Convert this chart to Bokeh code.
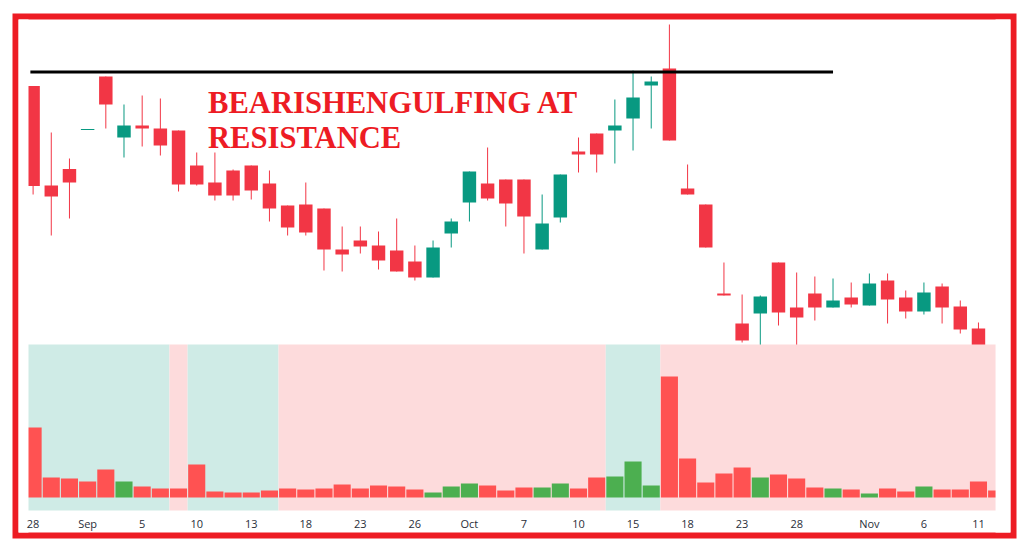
from bokeh.plotting import figure
from bokeh.models import Range1d, FixedTicker, ColumnDataSource
from bokeh.core.properties import value
from bokeh.embed import file_html
from bokeh.resources import INLINE

# ---- data ----
opens = [132.9, 113.0, 116.3, 124.1, 134.8, 122.6, 125.0, 124.4, 124.0, 117.0,
         113.6, 116.0, 117.0, 113.4, 109.0, 109.2, 108.4, 100.2, 102.0, 101.0,
         100.0, 97.8, 94.6, 103.4, 109.6, 113.4, 114.2, 114.2, 100.2, 106.6,
         119.8, 123.4, 124.0, 126.4, 133.0, 136.4, 112.4, 109.2, 91.4, 85.4,
         87.4, 97.6, 88.6, 91.4, 88.6, 90.6, 89.0, 94.0, 90.6, 87.8,
         92.8, 88.8, 84.4, 80.0]
highs = [132.9, 123.6, 118.4, 124.3, 134.8, 129.2, 131.0, 130.4, 124.0, 119.6,
         119.6, 116.2, 117.0, 116.0, 109.0, 113.6, 108.4, 104.8, 104.8, 103.8,
         106.4, 101.0, 102.0, 106.4, 115.8, 120.6, 114.2, 114.2, 111.2, 115.2,
         122.6, 123.4, 130.2, 136.0, 134.8, 145.2, 117.2, 109.2, 97.6, 91.2,
         91.0, 97.6, 95.6, 94.8, 94.4, 93.6, 95.4, 95.4, 92.0, 93.6,
         93.4, 90.0, 85.6, 81.0]
lows = [111.2, 103.0, 106.4, 124.1, 124.4, 118.6, 120.8, 119.0, 111.8, 113.0,
        110.0, 110.0, 110.2, 105.8, 103.0, 103.0, 96.0, 95.8, 99.4, 96.2,
        95.8, 94.0, 94.6, 100.6, 105.8, 110.0, 104.8, 99.4, 100.2, 105.6,
        115.6, 115.6, 117.4, 120.0, 124.4, 122.0, 111.2, 100.6, 91.0, 81.6,
        80.0, 85.0, 81.0, 86.0, 88.6, 88.6, 89.0, 85.4, 86.4, 87.2,
        85.4, 83.4, 79.0, 76.0]
closes = [112.9, 110.8, 113.6, 124.3, 129.2, 125.0, 124.4, 121.0, 113.2, 113.2,
          111.0, 111.0, 112.0, 108.4, 104.6, 103.6, 100.2, 99.2, 100.8, 98.0,
          95.8, 94.6, 100.6, 105.8, 115.8, 110.4, 109.4, 106.8, 105.4, 115.2,
          119.2, 119.2, 125.0, 130.6, 133.8, 122.0, 111.2, 100.6, 91.0, 82.0,
          90.8, 87.6, 86.6, 88.6, 90.0, 89.2, 93.4, 90.2, 87.8, 91.6,
          88.6, 84.2, 80.0, 77.0]
volumes = [7.0, 2.0, 1.9, 1.6, 2.8, 1.6, 1.1, 0.9, 0.9, 3.3,
           0.6, 0.5, 0.5, 0.7, 0.9, 0.8, 0.9, 1.3, 0.9, 1.2,
           1.1, 0.8, 0.5, 1.1, 1.4, 1.2, 0.7, 1.0, 1.0, 1.4,
           0.9, 2.0, 2.1, 3.6, 1.2, 12.1, 3.9, 1.5, 2.4, 3.0,
           2.0, 2.3, 1.9, 1.0, 0.9, 0.8, 0.4, 0.9, 0.6, 1.1,
           0.8, 0.8, 1.6, 0.7]
volume_up = [0, 0, 0, 0, 0, 1, 0, 0, 0, 0,
             0, 0, 0, 0, 0, 0, 0, 0, 0, 0,
             0, 0, 1, 1, 1, 0, 0, 0, 1, 1,
             0, 0, 1, 1, 1, 0, 0, 0, 0, 0,
             1, 0, 0, 0, 1, 0, 1, 0, 0, 1,
             0, 0, 0, 0]
trend = ["up"] * 8 + ["down"] + ["up"] * 5 + ["down"] * 18 + ["up"] * 3 + ["down"] * 19
tick_idx = [0, 3, 6, 9, 12, 15, 18, 21, 24, 27, 30, 33, 36, 39, 42, 46, 49, 52]
tick_labels = ["28", "Sep", "5", "10", "13", "18", "23", "26", "Oct", "7",
               "10", "15", "18", "23", "28", "Nov", "6", "11"]
resistance = 135.7
resistance_from, resistance_to = -0.15, 44.0
title_lines = ["BEARISHENGULFING AT", "RESISTANCE"]

# ---- styles ----
RED = "#f23645"
TEAL = "#089981"
VRED = "#ff5252"
VGREEN = "#4caf50"
BAND = {"up": "#cfebe6", "down": "#fddbdc"}
FRAME_RED = "#ed1c24"

# chart pane limits (x in bar units, y in price / volume units)
PANE_L, PANE_R = -0.253, 52.94
X0, X1 = -0.968, 53.927
Y0, Y1 = 43.0, 146.8
V0, V1 = -3.8, 48.1
BAND_BOTTOM, BAND_TOP = -1.3, 15.3

n = len(opens)
xs = list(range(n))
up = [c >= o for o, c in zip(opens, closes)]
src = ColumnDataSource(dict(
    x=xs, h=highs, l=lows,
    top=[max(o, c) for o, c in zip(opens, closes)],
    bottom=[min(o, c) for o, c in zip(opens, closes)],
    color=[TEAL if u else RED for u in up],
    vol=volumes,
    vcolor=[VGREEN if v else VRED for v in volume_up],
))

p = figure(width=1024, height=553, output_backend="svg", toolbar_location=None,
           x_range=Range1d(X0, X1), y_range=Range1d(Y0, Y1),
           min_border_left=15, min_border_right=11, min_border_top=16,
           min_border_bottom=18, y_axis_location=None)
p.extra_y_ranges = {"vol": Range1d(V0, V1)}
p.outline_line_color = FRAME_RED
p.outline_line_width = 6
p.outline_line_alpha = 1.0
p.outline_line_join = "miter"
p.background_fill_color = "white"
p.border_fill_color = "white"
p.xgrid.visible = False
p.ygrid.visible = False

# candles
p.segment(x0="x", y0="h", x1="x", y1="l", line_color="color", line_width=1, source=src)
p.vbar(x="x", top="top", bottom="bottom", width=0.74, fill_color="color",
       line_color=None, source=src)

# background bands of the volume pane
runs = []
start = 0
for i in range(1, n + 1):
    if i == n or trend[i] != trend[start]:
        runs.append((start, i - 1, trend[start]))
        start = i
p.quad(left=[r[0] - 0.5 for r in runs], right=[r[1] + 0.5 for r in runs],
       bottom=BAND_BOTTOM, top=BAND_TOP, fill_color=[BAND[r[2]] for r in runs],
       line_color=None, y_range_name="vol")

# volume
p.vbar(x="x", top="vol", bottom=0, width=0.94, fill_color="vcolor",
       line_color=None, y_range_name="vol", source=src)

# white margins left / right of the chart pane (inside the red frame)
p.quad(left=[X0 + 0.17, PANE_R], right=[PANE_L, X1 - 0.17],
       bottom=Y0 + 0.6, top=Y1 - 0.6, fill_color="white", line_color=None)

# resistance line
p.segment(x0=[resistance_from], y0=[resistance], x1=[resistance_to], y1=[resistance],
          line_color="black", line_width=3)

# title
p.text(x=[9.62, 9.62], y=[129.5, 122.5], text=title_lines,
       text_font=value("Liberation Serif"), text_font_style="bold",
       text_font_size="30.6px", text_color=FRAME_RED, text_baseline="alphabetic")

# x axis (labels sit inside the frame, just under the volume pane)
ax = p.xaxis[0]
ax.ticker = FixedTicker(ticks=tick_idx)
ax.major_label_overrides = {i: t for i, t in zip(tick_idx, tick_labels)}
ax.axis_line_color = None
ax.major_tick_line_color = None
ax.minor_tick_line_color = None
ax.major_tick_out = 0
ax.major_tick_in = 0
ax.major_label_standoff = -20
ax.major_label_text_font = "Open Sans"
ax.major_label_text_font_size = "11px"
ax.major_label_text_font_style = "normal"
ax.major_label_text_color = "#2a2e39"

open("out.html", "w").write(file_html(p, INLINE))
